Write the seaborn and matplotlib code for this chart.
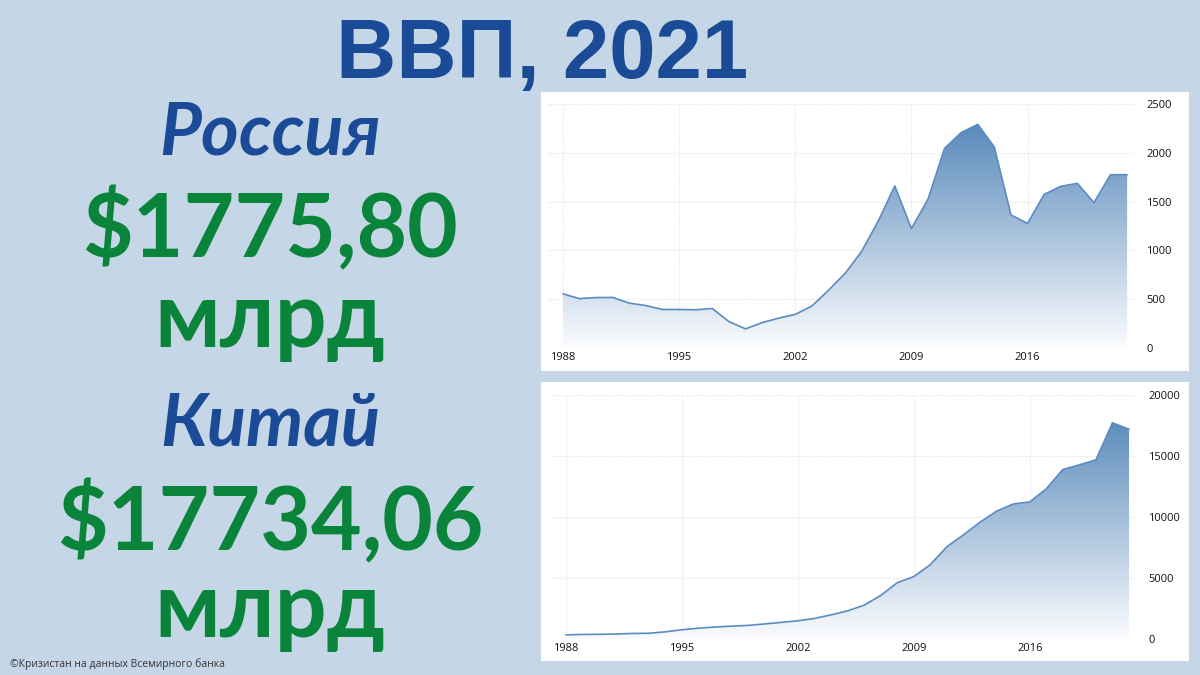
import numpy as np
import pandas as pd
import matplotlib
matplotlib.use("Agg")
import matplotlib.pyplot as plt
import seaborn as sns
from matplotlib.colors import LinearSegmentedColormap
from matplotlib.patches import Rectangle

# данные (млрд $), прочитаны с графиков
years = list(range(1988, 2023))
russia = [555, 506, 517, 518, 460, 435, 395, 395, 392, 405, 271, 196, 260, 306, 345, 430,
          591, 764, 990, 1300, 1661, 1223, 1525, 2046, 2208, 2292, 2059, 1363, 1277, 1574,
          1657, 1687, 1489, 1776, 1776]
china = [312, 348, 361, 383, 427, 445, 564, 734, 863, 961, 1029, 1094, 1211, 1339, 1471, 1660,
         1955, 2286, 2752, 3550, 4594, 5102, 6087, 7552, 8532, 9570, 10476, 11062, 11233, 12310,
         13895, 14280, 14688, 17734, 17200]
x_ticks = [1988, 1995, 2002, 2009, 2016]
ru_yticks = [0, 500, 1000, 1500, 2000, 2500]
cn_yticks = [0, 5000, 10000, 15000, 20000]

title = "ВВП, 2021"
ru_name, ru_value = "Россия", "$1775,80"
cn_name, cn_value = "Китай", "$17734,06"
unit = "млрд"
credit = "©Кризистан на данных Всемирного банка"

bg = "#c5d7e7"
dark_blue = "#1b4a97"
green = "#0a843a"
line_col = "#5a8cc2"
grad = LinearSegmentedColormap.from_list("grad", ["#fbfcfe", "#4a7fb4"])

sns.set_theme(style="white")
plt.rcParams["font.family"] = ["Lato", "DejaVu Sans"]

fig = plt.figure(figsize=(12, 6.75), dpi=100, facecolor=bg)

# белые подложки под графиками
for y0, h in [(0.4504, 0.4133), (0.0207, 0.4133)]:
    fig.patches.append(Rectangle((0.4508, y0), 0.54, h, transform=fig.transFigure,
                                 facecolor="white", edgecolor="none", zorder=-1))


def area_chart(rect, df, col, yticks, xlim):
    ax = fig.add_axes(rect)
    ax.set_zorder(1)
    ax.set_facecolor("none")
    ymax = yticks[-1]
    # градиентная заливка под линией
    img = ax.imshow(np.linspace(0, 1, 256).reshape(-1, 1), cmap=grad, origin="lower",
                    extent=[xlim[0], xlim[1], 0, ymax], aspect="auto", zorder=1)
    poly = ax.fill_between(df["year"], df[col], 0, color="none")
    img.set_clip_path(poly.get_paths()[0], transform=ax.transData)
    sns.lineplot(data=df, x="year", y=col, ax=ax, color=line_col, lw=1.2, zorder=3)
    ax.set_xlim(*xlim)
    ax.set_ylim(0, ymax)
    ax.set_xticks(x_ticks)
    ax.set_yticks(yticks)
    ax.yaxis.tick_right()
    ax.tick_params(length=0, labelsize=8, colors="#111111")
    ax.tick_params(axis="y", pad=8)
    ax.tick_params(axis="x", pad=3)
    ax.grid(True, color="#e6e6e6", lw=0.8, ls=(0, (1, 1)))
    ax.set_axisbelow(True)
    for s in ax.spines.values():
        s.set_visible(False)
    ax.set_xlabel("")
    ax.set_ylabel("")
    for lab in ax.get_xticklabels() + ax.get_yticklabels():
        lab.set_family(["Open Sans", "DejaVu Sans"])
    return ax


df = pd.DataFrame({"year": years, "russia": russia, "china": china})
area_chart([0.4567, 0.4844, 0.4892, 0.3615], df, "russia", ru_yticks, (1987.1, 2022.48))
area_chart([0.4575, 0.0538, 0.4900, 0.3607], df, "china", cn_yticks, (1986.97, 2022.48))

# заголовок и подписи слева
fig.text(0.4517, 0.8844, title, ha="center", va="baseline", fontsize=60,
         fontweight="bold", color=dark_blue, family=["Liberation Sans", "DejaVu Sans"])
for txt, y, kw in [
    (ru_name, 0.7704, dict(fontsize=52, style="italic", color=dark_blue)),
    (ru_value, 0.6193, dict(fontsize=63, color=green)),
    (unit, 0.4859, dict(fontsize=66, color=green)),
    (cn_name, 0.3407, dict(fontsize=52, style="italic", color=dark_blue)),
    (cn_value, 0.1852, dict(fontsize=63, color=green)),
    (unit, 0.0563, dict(fontsize=66, color=green)),
]:
    fig.text(0.225, y, txt, ha="center", va="baseline", fontweight="bold", **kw)

fig.text(0.0085, 0.012, credit, ha="left", va="baseline", fontsize=7.5, color="#333333",
         family=["Open Sans", "DejaVu Sans"])

fig.savefig("out.png", dpi=100, facecolor=bg)
